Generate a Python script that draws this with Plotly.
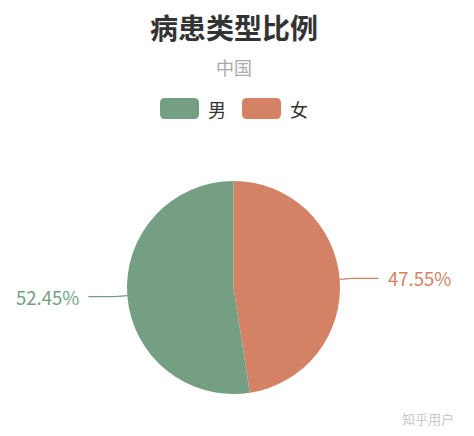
import math
import plotly.graph_objects as go

# ---- data ----
labels = ["男", "女"]
values = [52.45, 47.55]
colors = ["#749f83", "#d48265"]
title_text = "病患类型比例"
subtitle_text = "中国"
watermark_text = "知乎用户"

# ---- layout geometry (pixels, origin top-left of window) ----
W, H = 474, 436
OFF = 8  # page body margin
CX, CY, R = 233.5, 287.5, 106.5
FONT = "Noto Sans CJK SC, Noto Sans, sans-serif"


def px(x):
    return (x - OFF) / W


def py(y):
    return 1 - (y - OFF) / H


# slices drawn clockwise from 12 o'clock: 女 first (right), then 男 (left)
pie_labels = labels[::-1]
pie_values = values[::-1]
pie_colors = colors[::-1]

fig = go.Figure(
    go.Pie(
        labels=pie_labels,
        values=pie_values,
        sort=False,
        direction="clockwise",
        rotation=0,
        marker=dict(colors=pie_colors, line=dict(width=0)),
        textinfo="none",
        hoverinfo="label+percent",
        showlegend=False,
        domain=dict(x=[px(CX - R), px(CX + R)], y=[py(CY + R), py(CY - R)]),
    )
)

shapes = []
annotations = []

# ---- leader lines + outside labels (computed from values) ----
total = sum(pie_values)
cum = 0.0
for lab, val, col in zip(pie_labels, pie_values, pie_colors):
    mid = (cum + val / 2) / total
    cum += val
    theta = mid * 2 * math.pi  # clockwise from 12 o'clock
    sx, sy = math.sin(theta), -math.cos(theta)
    x0, y0 = CX + R * sx, CY + R * sy
    x1, y1 = CX + (R + 12) * sx, CY + (R + 12) * sy
    side = 1 if sx > 0 else -1
    x2, y2 = x1 + side * 27, y1
    shapes.append(dict(
        type="path", xref="paper", yref="paper",
        path=f"M {px(x0)} {py(y0)} L {px(x1)} {py(y1)} L {px(x2)} {py(y2)}",
        line=dict(color=col, width=1.2),
    ))
    pct = f"{val / total * 100:.2f}%"
    annotations.append(dict(
        x=px(x2 + side * 7), y=py(y2), xref="paper", yref="paper",
        text=pct, showarrow=False,
        xanchor="left" if side > 0 else "right", yanchor="middle",
        font=dict(family=FONT, size=18.5, color=col),
    ))

# ---- title / subtitle ----
annotations.append(dict(
    x=px(CX), y=py(27), xref="paper", yref="paper", text=f"<b>{title_text}</b>",
    showarrow=False, xanchor="center", yanchor="middle",
    font=dict(family=FONT, size=28, color="#333333"),
))
annotations.append(dict(
    x=px(CX), y=py(67), xref="paper", yref="paper", text=subtitle_text,
    showarrow=False, xanchor="center", yanchor="middle",
    font=dict(family=FONT, size=18, color="#aaaaaa"),
))

# ---- custom legend with rounded rectangles ----
leg_x = 160
leg_y0, leg_y1 = 98, 119
rect_w = 39
for lab, col in zip(labels, colors):
    x0, x1 = leg_x, leg_x + rect_w
    r = 5
    path = (
        f"M {px(x0 + r)} {py(leg_y0)} L {px(x1 - r)} {py(leg_y0)} "
        f"Q {px(x1)} {py(leg_y0)} {px(x1)} {py(leg_y0 + r)} "
        f"L {px(x1)} {py(leg_y1 - r)} Q {px(x1)} {py(leg_y1)} {px(x1 - r)} {py(leg_y1)} "
        f"L {px(x0 + r)} {py(leg_y1)} Q {px(x0)} {py(leg_y1)} {px(x0)} {py(leg_y1 - r)} "
        f"L {px(x0)} {py(leg_y0 + r)} Q {px(x0)} {py(leg_y0)} {px(x0 + r)} {py(leg_y0)} Z"
    )
    shapes.append(dict(type="path", xref="paper", yref="paper", path=path,
                       fillcolor=col, line=dict(width=0)))
    annotations.append(dict(
        x=px(x1 + 7), y=py((leg_y0 + leg_y1) / 2), xref="paper", yref="paper",
        text=lab, showarrow=False, xanchor="left", yanchor="middle",
        font=dict(family=FONT, size=18, color="#333333"),
    ))
    leg_x = x1 + 43

# ---- watermark ----
annotations.append(dict(
    x=px(456), y=py(418), xref="paper", yref="paper", text=watermark_text,
    showarrow=False, xanchor="right", yanchor="middle",
    font=dict(family=FONT, size=13, color="#c8c8c8"),
))

fig.update_layout(
    width=W, height=H,
    margin=dict(l=0, r=0, t=0, b=0),
    paper_bgcolor="white", plot_bgcolor="white",
    shapes=shapes, annotations=annotations,
)

fig.write_html("out.html")
